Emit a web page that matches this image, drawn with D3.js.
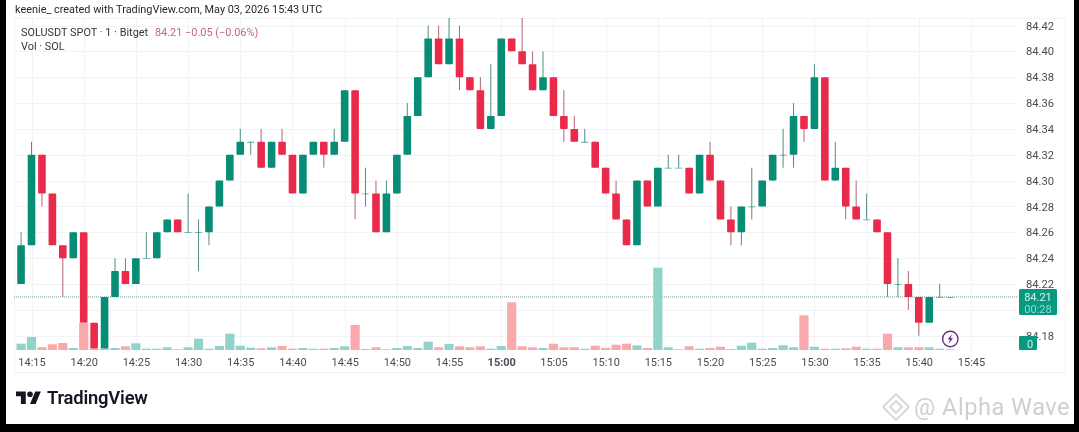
<!DOCTYPE html>
<html><head><meta charset="utf-8">
<style>html,body{margin:0;padding:0;background:#000}svg{display:block;filter:blur(0.35px)}text{font-family:Roboto,"Noto Sans",sans-serif}</style>
<script src="https://cdn.jsdelivr.net/npm/d3@7"></script></head>
<body><svg id="c" width="1079" height="432"></svg>
<script>
const minutes=["14:14","14:15","14:16","14:17","14:18","14:19","14:20","14:21","14:22","14:23","14:24","14:25","14:26","14:27","14:28","14:29","14:30","14:31","14:32","14:33","14:34","14:35","14:36","14:37","14:38","14:39","14:40","14:41","14:42","14:43","14:44","14:45","14:46","14:47","14:48","14:49","14:50","14:51","14:52","14:53","14:54","14:55","14:56","14:57","14:58","14:59","15:00","15:01","15:02","15:03","15:04","15:05","15:06","15:07","15:08","15:09","15:10","15:11","15:12","15:13","15:14","15:15","15:16","15:17","15:18","15:19","15:20","15:21","15:22","15:23","15:24","15:25","15:26","15:27","15:28","15:29","15:30","15:31","15:32","15:33","15:34","15:35","15:36","15:37","15:38","15:39","15:40","15:41","15:42","15:43"];
const opens=[84.22,84.25,84.32,84.29,84.25,84.24,84.26,84.19,84.17,84.21,84.23,84.22,84.24,84.24,84.26,84.27,84.26,84.26,84.26,84.28,84.30,84.32,84.33,84.33,84.31,84.33,84.32,84.29,84.32,84.33,84.32,84.33,84.37,84.29,84.29,84.26,84.29,84.32,84.35,84.38,84.41,84.39,84.41,84.38,84.37,84.34,84.35,84.41,84.40,84.39,84.37,84.38,84.35,84.34,84.33,84.33,84.31,84.29,84.27,84.25,84.30,84.28,84.31,84.31,84.31,84.29,84.32,84.30,84.27,84.26,84.28,84.28,84.30,84.32,84.32,84.35,84.34,84.38,84.30,84.31,84.28,84.27,84.27,84.26,84.22,84.22,84.21,84.19,84.21,84.21];
const highs=[84.26,84.33,84.32,84.29,84.25,84.26,84.26,84.19,84.21,84.24,84.24,84.24,84.26,84.26,84.27,84.27,84.29,84.27,84.28,84.30,84.32,84.34,84.33,84.34,84.33,84.34,84.32,84.32,84.33,84.33,84.34,84.37,84.37,84.31,84.30,84.30,84.32,84.36,84.38,84.42,84.42,84.43,84.42,84.38,84.38,84.39,84.41,84.41,84.43,84.40,84.40,84.38,84.37,84.35,84.34,84.33,84.31,84.30,84.27,84.30,84.30,84.31,84.32,84.32,84.31,84.32,84.33,84.30,84.28,84.28,84.31,84.30,84.32,84.34,84.36,84.35,84.39,84.38,84.33,84.31,84.30,84.29,84.27,84.26,84.24,84.23,84.21,84.21,84.22,84.21];
const lows=[84.22,84.25,84.28,84.25,84.21,84.24,84.19,84.17,84.17,84.21,84.22,84.22,84.24,84.24,84.26,84.26,84.26,84.23,84.25,84.28,84.30,84.32,84.32,84.31,84.31,84.32,84.29,84.29,84.32,84.31,84.32,84.33,84.27,84.28,84.26,84.26,84.29,84.32,84.35,84.38,84.39,84.39,84.37,84.37,84.34,84.34,84.35,84.40,84.39,84.37,84.37,84.35,84.33,84.33,84.33,84.31,84.29,84.27,84.25,84.25,84.28,84.28,84.31,84.31,84.29,84.29,84.30,84.27,84.25,84.25,84.27,84.28,84.30,84.31,84.31,84.33,84.34,84.30,84.30,84.27,84.27,84.27,84.26,84.21,84.21,84.20,84.18,84.19,84.21,84.21];
const closes=[84.25,84.32,84.29,84.25,84.24,84.26,84.19,84.17,84.21,84.23,84.22,84.24,84.24,84.26,84.27,84.26,84.26,84.26,84.28,84.30,84.32,84.33,84.33,84.31,84.33,84.32,84.29,84.32,84.33,84.32,84.33,84.37,84.29,84.29,84.26,84.29,84.32,84.35,84.38,84.41,84.39,84.41,84.38,84.37,84.34,84.35,84.41,84.40,84.39,84.37,84.38,84.35,84.34,84.33,84.33,84.31,84.29,84.27,84.25,84.30,84.28,84.31,84.31,84.31,84.29,84.32,84.30,84.27,84.26,84.28,84.28,84.30,84.32,84.32,84.35,84.34,84.38,84.30,84.31,84.28,84.27,84.27,84.26,84.22,84.22,84.21,84.19,84.21,84.21,84.21];
const volumes=[6.3,13,2.7,5.7,7,2,27.3,1.5,1.5,2,3.7,6.7,1.3,1.3,2.7,0.7,2.7,11.3,1.3,4,16.3,4.3,2.3,1.7,2.7,4,1.3,2,1.3,1.3,2,3.7,25,1,2.7,0.7,2,4,2,8.3,2.7,6,3.7,2.7,3.7,1.3,4,47.7,3.7,2.7,2,6.3,2.7,2.7,1.3,4.3,2,5.3,6.3,4.7,2,82.3,2.7,0.7,3.7,1.3,2,3.3,1,4.3,7.3,1.3,2,4.7,2.7,34.7,3.3,1.3,1.3,1.7,3.3,1.3,1.3,16.3,2.7,2.7,2.7,2.7,1.3,0.7];
const timeTicks=["14:15","14:20","14:25","14:30","14:35","14:40","14:45","14:50","14:55","15:00","15:05","15:10","15:15","15:20","15:25","15:30","15:35","15:40","15:45"];
const priceTicks=[84.18,84.20,84.22,84.24,84.26,84.28,84.30,84.32,84.34,84.36,84.38,84.40,84.42];
const lastPrice=84.21;

const UP="#078c76",DOWN="#e92a4a",UPV="#8fd3cb",DOWNV="#f9a9ab";
const toDate=s=>new Date("2026-05-03T"+s+":00Z");
const x=d3.scaleTime().domain([toDate("14:15"),toDate("15:45")]).range([31.5,971]);
const y=d3.scaleLinear().domain([84.18,84.42]).range([335.7,25.5]);
const yv=d3.scaleLinear().domain([0,83]).range([350,267]);
const svg=d3.select("#c");
const rows=minutes.map((m,i)=>({t:toDate(m),o:opens[i],h:highs[i],l:lows[i],c:closes[i],v:volumes[i],up:closes[i]>=opens[i]}));

svg.append("rect").attr("width",1079).attr("height",432).attr("fill","#000");
svg.append("rect").attr("x",6).attr("y",0).attr("width",1068).attr("height",424).attr("fill","#fff");
svg.append("rect").attr("x",14.5).attr("y",18.5).attr("width",1051).attr("height",354).attr("fill","none").attr("stroke","#f2f3f6");
svg.append("defs").append("clipPath").attr("id","p").append("rect").attr("x",14).attr("y",18).attr("width",1003).attr("height",332);

const grid=svg.append("g").attr("stroke","#f1f3f6");
grid.selectAll(".h").data(priceTicks).join("line").attr("x1",14).attr("x2",1017).attr("y1",d=>Math.round(y(d))+.5).attr("y2",d=>Math.round(y(d))+.5);
grid.selectAll(".v").data(timeTicks).join("line").attr("y1",18).attr("y2",352).attr("x1",d=>Math.round(x(toDate(d)))+.5).attr("x2",d=>Math.round(x(toDate(d)))+.5);

const plot=svg.append("g").attr("clip-path","url(#p)");
plot.append("line").attr("x1",14).attr("x2",1019).attr("y1",y(lastPrice)).attr("y2",y(lastPrice)).attr("stroke","#6f9c96").attr("stroke-dasharray","1 1");
const cg=plot.append("g");
cg.selectAll(".w").data(rows).join("line").attr("x1",d=>x(d.t)).attr("x2",d=>x(d.t)).attr("y1",d=>y(d.h)).attr("y2",d=>y(d.l)).attr("stroke",d=>d.up?"#3d7f77":"#a8565f").attr("stroke-width",.9);
cg.selectAll(".b").data(rows).join("rect").attr("x",d=>x(d.t)-3.8).attr("width",7.6)
  .attr("y",d=>y(Math.max(d.o,d.c))).attr("height",d=>Math.max(.8,Math.abs(y(d.o)-y(d.c)))).attr("rx",.8)
  .attr("fill",d=>d.up?UP:DOWN).attr("opacity",d=>d.o===d.c?.75:1);
plot.append("g").selectAll("rect").data(rows).join("rect").attr("x",d=>x(d.t)-4.6).attr("width",9.2)
  .attr("y",d=>yv(d.v)).attr("height",d=>yv(0)-yv(d.v)).attr("fill",d=>d.up?UPV:DOWNV);

const xAxis=d3.axisBottom(x).tickValues(timeTicks.map(toDate)).tickSize(0).tickPadding(0).tickFormat(d3.utcFormat("%H:%M"));
const ax=svg.append("g").attr("transform","translate(0,358)").call(xAxis);
ax.select(".domain").remove();
ax.selectAll("text").attr("fill","#4a4d55").attr("font-size",11).attr("font-weight",d=>d3.utcFormat("%H:%M")(d)==="15:00"?700:400);

const yAxis=d3.axisRight(y).tickValues(priceTicks.filter(d=>d!==84.20)).tickSize(0).tickPadding(0).tickFormat(d3.format(".2f"));
const ay=svg.append("g").attr("transform","translate(1026,0)").call(yAxis);
ay.select(".domain").remove();
ay.selectAll("text").attr("fill","#4a4d55").attr("font-size",11.2);

svg.append("rect").attr("x",1019).attr("y",289).attr("width",38).attr("height",26).attr("rx",1.5).attr("fill","#089981");
svg.append("text").attr("x",1038).attr("y",301).attr("text-anchor","middle").attr("font-size",11).attr("fill","#d8f3ee").text("84.21");
svg.append("text").attr("x",1038).attr("y",313).attr("text-anchor","middle").attr("font-size",11).attr("fill","#8fdccf").text("00:28");
svg.append("rect").attr("x",1019).attr("y",336).attr("width",18).attr("height",14).attr("rx",1).attr("fill","#089981");
svg.append("text").attr("x",1030).attr("y",347.5).attr("text-anchor","middle").attr("font-size",11).attr("fill","#c9efe8").text("0");

svg.append("circle").attr("cx",950.3).attr("cy",339).attr("r",7.7).attr("fill","#fff").attr("stroke","#6b2d7e").attr("stroke-width",1.4);
svg.append("path").attr("d","M952 334 L947.6 339.6 L950 339.6 L948.6 344 L953 338.2 L950.6 338.2 Z").attr("fill","#6b2d7e");

svg.append("text").attr("x",15).attr("y",13).attr("font-size",10.9).attr("fill","#26282e").text("keenie_ created with TradingView.com, May 03, 2026 15:43 UTC");
svg.append("text").attr("x",21).attr("y",36).attr("font-size",10.9).attr("fill","#33353b").text("SOLUSDT SPOT · 1 · Bitget");
svg.append("text").attr("x",155).attr("y",36).attr("font-size",10.9).attr("fill","#c2687a").text("84.21  −0.05 (−0.06%)");
svg.append("text").attr("x",21).attr("y",50).attr("font-size",10.9).attr("fill","#33353b").text("Vol · SOL");

const logo=svg.append("g").attr("transform","translate(16,388.6) scale(.7)").attr("fill","#131722");
logo.append("path").attr("d","M14 22H7V11H0V4h14v18ZM28 22h-8l7.5-18h8L28 22Z");
logo.append("circle").attr("cx",20).attr("cy",8).attr("r",4);
svg.append("text").attr("x",47).attr("y",404).attr("font-size",18.4).attr("font-weight",600).attr("font-family","Inter,Roboto,sans-serif").attr("fill","#131722").attr("letter-spacing","-.2").text("TradingView");

const wm=svg.append("g").attr("fill","none").attr("stroke","#d6d6d6").attr("stroke-width",1.8);
wm.append("path").attr("d","M896 394 L903 401 M896 394 L889 401 M883 407 L889 401 M909 407 L903 401 M883 407 L889 413 M909 407 L903 413 M889 413 L896 420 L903 413");
wm.append("path").attr("d","M896 401 L902 407 L896 413 L890 407 Z");
svg.append("text").attr("x",914).attr("y",415).attr("font-size",23.6).attr("fill","#cfcfcf").attr("letter-spacing",".5").text("@ Alpha Wave");
</script></body></html>
